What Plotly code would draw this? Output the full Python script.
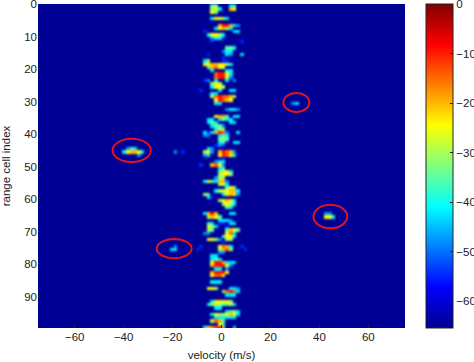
import plotly.graph_objects as go

velocity_cells = [-74.25 + 1.5 * i for i in range(100)]
range_cells = [r + 0.5 for r in range(100)]
level_db = [-65, -55, -48, -42, -35, -30, -25, -20, -14, -9]
band_first_col = 43

band_rows = [
"....44...33...", "....563..76...", "....64........", "..............",
"....36653.....", "..............", "......799732..", ".....36753....",
"..1.......33..", "...36653......", "....2331......", "....1.......1.",
"..............", "........443...", ".......233....", "...1....32..3.",
".......1......", "..35...11.....", "..66776653....", "...47866......",
"....3...33....", ".....89963....", ".....89952....", "..12.3..3.2...",
"....565.......", "....3665......", ".1....3..33...", "....33........",
"....5898875...", ".....69876....", ".....33.......", "..............",
"........2332..", "..............", ".....6774.33..", "...33.3533....",
"...343...33...", "....3442......", ".....355......", "..3137982..3..",
"..22..343.....", "......454.....", "......341.33..", ".....121......",
"...32.........", "..562.79872...", "..23..69863...", ".......1......",
".....233......", ".1..7862......", "......34......", "......4663....",
"......5665....", ".....255......", "..3643772.....", "......563.....",
"........464...", ".....3556773..", "..54...36762..", "...31.........",
"......56763...", ".......5653...", "........43....", "..............",
"..3797...33...", "...5764.......", "......3332....", "...43.11.33...",
"...653..1.....", "...54...4764..", "..22....683...", ".......4663...",
"...6652.55....", ".......1......", ".1....6873..1.", "1.....5785...1",
"......22......", "....33........", "....343.......", "....6997333...",
"....799962....", ".....33.2.....", "....79996.....", "....6886......",
"..............", "....333.......", "..............", "...665...332..",
".......58983..", "........333...", "..............", "....366665....",
"...35554453...", ".....33.......", "........3453..", "....36556763..",
".....333333...", "....5874......", "......63......", "..467897..3...",
]

target_rows = [45, 45, 45, 45, 45, 45, 44, 44, 44, 46, 45, 45, 75, 75, 74, 30, 30, 65, 65, 65, 64, 64]
target_cols = [23, 24, 25, 26, 27, 28, 24, 25, 26, 27, 37, 39, 36, 37, 37, 69, 70, 78, 79, 80, 78, 79]
target_levels = [3, 6, 7, 7, 6, 3, 2, 4, 3, 2, 2, 1, 3, 3, 2, 2, 3, 6, 6, 3, 2, 2]

ellipse_x0 = [-44.5, -26.5, 25.3, 37.6]
ellipse_x1 = [-28.9, -12.2, 35.9, 51.4]
ellipse_y0 = [41.5, 72.3, 27.4, 61.8]
ellipse_y1 = [48.6, 78.2, 33.2, 69.0]

x_ticks = [-60, -40, -20, 0, 20, 40, 60]
y_ticks = [0, 10, 20, 30, 40, 50, 60, 70, 80, 90]
bar_ticks = [0, -10, -20, -30, -40, -50, -60]

z = [[level_db[0]] * 100 for _ in range(100)]
for r, row in enumerate(band_rows):
    for i, ch in enumerate(row):
        if ch != ".":
            z[r][band_first_col + i] = level_db[int(ch)]
for r, c, lv in zip(target_rows, target_cols, target_levels):
    z[r][c] = level_db[lv]

jet = [
    [0.0, "rgb(0,0,143)"], [0.125, "rgb(0,0,255)"], [0.375, "rgb(0,255,255)"],
    [0.625, "rgb(255,255,0)"], [0.875, "rgb(255,0,0)"], [1.0, "rgb(128,0,0)"],
]
font = dict(family="Liberation Sans, Arial, sans-serif", size=11.5, color="#222222")

fig = go.Figure(go.Heatmap(
    x=velocity_cells, y=range_cells, z=z, colorscale=jet, zmin=-65.4, zmax=0,
    colorbar=dict(
        thicknessmode="pixels", thickness=27, lenmode="fraction", len=1,
        x=1.057, xanchor="left", y=0.5, yanchor="middle", xpad=0, ypad=0,
        tickvals=bar_ticks, ticks="inside", ticklen=3, tickcolor="#222222",
        outlinecolor="#222222", outlinewidth=1, tickfont=font,
        ticklabeloverflow="allow",
    ),
))
for x0, x1, y0, y1 in zip(ellipse_x0, ellipse_x1, ellipse_y0, ellipse_y1):
    fig.add_shape(type="circle", xref="x", yref="y", x0=x0, x1=x1, y0=y0, y1=y1,
                  line=dict(color="#e0141e", width=2))

fig.update_layout(
    width=474, height=362,
    margin=dict(l=38, r=69, t=4, b=34, autoexpand=False),
    paper_bgcolor="white", plot_bgcolor="rgb(0,0,143)", font=font,
    xaxis=dict(range=[-75, 75], tickvals=x_ticks, ticks="inside", ticklen=3,
               tickcolor="#222222", showgrid=False, zeroline=False, automargin=False,
               ticklabeloverflow="allow",
               title=dict(text="velocity (m/s)", font=font, standoff=9), tickfont=font),
    yaxis=dict(range=[99.7, 0], tickvals=y_ticks, ticks="inside", ticklen=3,
               tickcolor="#222222", showgrid=False, zeroline=False, automargin=False,
               ticklabeloverflow="allow",
               title=dict(text="range cell index", font=font, standoff=12), tickfont=font),
)
post = """
document.documentElement.style.overflow='hidden';
document.body.style.margin='0';
var s=document.createElement('style');
s.textContent='.hm image, .heatmaplayer image{filter:blur(0.8px);}';
document.head.appendChild(s);
"""
fig.write_html("out.html", post_script=post, config={"displayModeBar": False})
